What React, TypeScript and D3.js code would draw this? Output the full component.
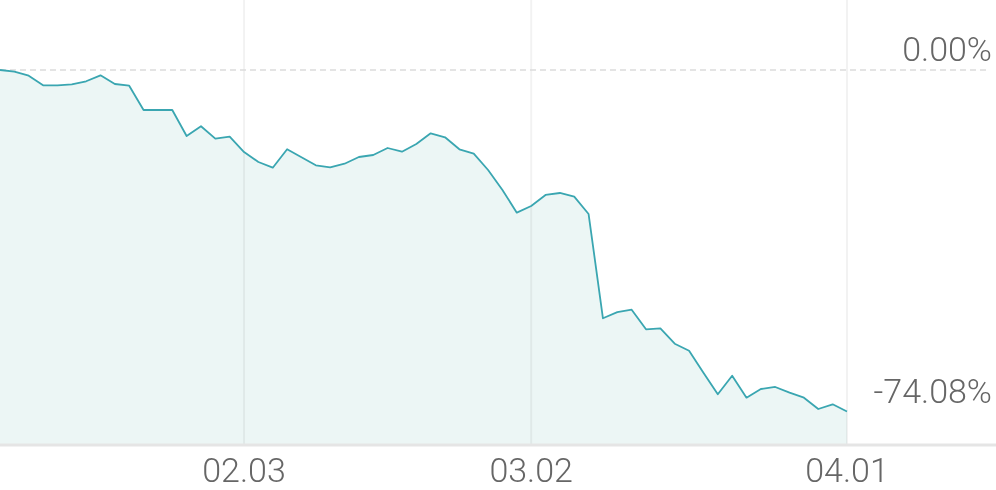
import { area, line, scaleLinear } from 'd3'

// daily return (%) vs. first day, one point per trading day
const returns = [
  0, -0.37, -1.24, -3.32, -3.32, -3.1, -2.45, -1.15, -3.04, -3.41,
  -8.68, -8.68, -8.68, -14.32, -12.21, -14.9, -14.47, -17.79, -19.96, -21.19,
  -17.2, -18.94, -20.67, -21.11, -20.33, -18.87, -18.44, -16.92, -17.72, -16.05,
  -13.73, -14.6, -17.2, -18.16, -21.69, -26.03, -30.95, -29.5, -27.11, -26.68,
  -27.48, -31.24, -53.86, -52.54, -52.0, -56.25, -56.03, -59.37, -60.89, -65.66,
  -70.35, -66.31, -71.08, -69.2, -68.76, -70.0, -71.08, -73.54, -72.52, -74.08,
]

const tickLabels = ['02.03', '03.02', '04.01']
const tickIndex = [17, 37, 59]

const W = 996
const H = 490

export default function App() {
  const margin = { top: 70, right: 149, bottom: 45, left: 0 }
  const baseY = H - margin.bottom
  const lastIdx = returns.length - 1
  const minVal = Math.min(...returns)

  const x = scaleLinear().domain([0, lastIdx]).range([margin.left, W - margin.right])
  const y = scaleLinear().domain([minVal, 0]).range([411.5, margin.top])

  const linePath = line<number>()
    .x((_, i) => x(i))
    .y((d) => y(d))(returns)

  const areaPath = area<number>()
    .x((_, i) => x(i))
    .y0(baseY)
    .y1((d) => y(d))(returns)

  const font = 'Roboto, sans-serif'

  return (
    <div style={{ position: 'fixed', left: 0, top: 0 }}>
      <svg width={W} height={H} style={{ display: 'block' }}>
        <path d={areaPath ?? ''} fill="#ecf6f5" />
        {tickIndex.map((t) => (
          <line key={t} x1={x(t)} x2={x(t)} y1={0} y2={baseY} stroke="rgba(0,0,0,0.05)" strokeWidth={2} />
        ))}
        <line x1={0} x2={990} y1={y(0)} y2={y(0)} stroke="#dcdcdc" strokeWidth={1.5} strokeDasharray="6,4" />
        <path d={linePath ?? ''} fill="none" stroke="#3aa6b1" strokeWidth={1.8} strokeLinejoin="round" />
        <line x1={0} x2={W} y1={baseY} y2={baseY} stroke="#e5e5e5" strokeWidth={3} />
        {tickIndex.map((t, i) => (
          <text key={t} x={x(t)} y={481.5} textAnchor="middle" fontFamily={font} fontWeight={300} fontSize={34} fill="#666">
            {tickLabels[i]}
          </text>
        ))}
        <text x={992} y={60.5} textAnchor="end" fontFamily={font} fontWeight={300} fontSize={34} fill="#666">
          {returns[0].toFixed(2)}%
        </text>
        <text x={992} y={403} textAnchor="end" fontFamily={font} fontWeight={300} fontSize={34} fill="#666">
          {returns[lastIdx].toFixed(2)}%
        </text>
      </svg>
    </div>
  )
}
